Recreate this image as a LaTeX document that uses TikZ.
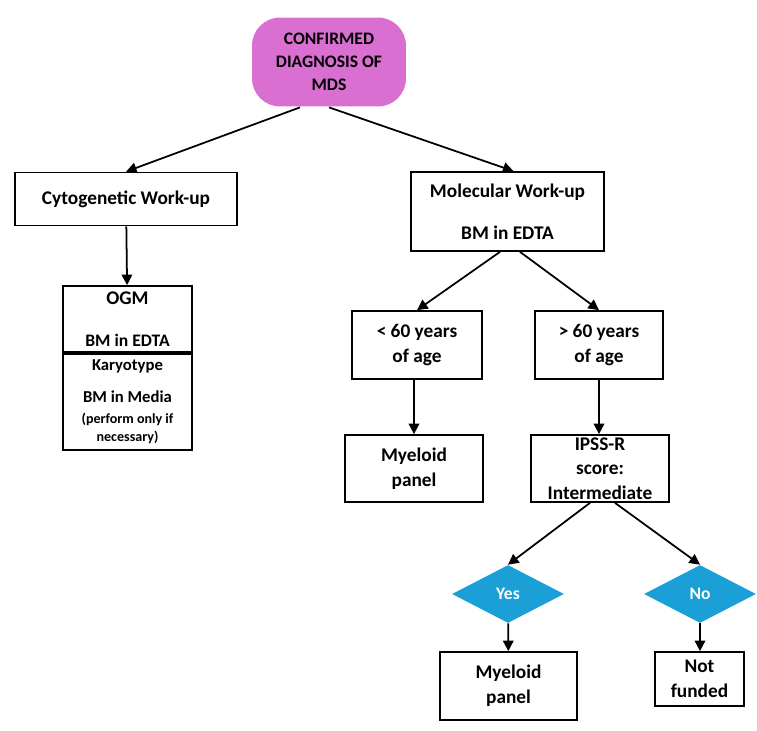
\documentclass[tikz,border=0pt]{standalone}
\usepackage{fontspec}
\setmainfont{Carlito}
\usetikzlibrary{shapes.geometric,arrows.meta}
\definecolor{mdspink}{HTML}{D96FD0}
\definecolor{diablue}{HTML}{1A9FD6}
\tikzset{
  box/.style={draw, line width=1pt, align=center, inner sep=0pt,
    font=\fontsize{11}{14}\selectfont\bfseries},
  dia/.style={diamond, fill=diablue, aspect=1.9, inner sep=0pt,
    minimum width=2.24cm, minimum height=1.16cm, text=white,
    font=\fontsize{10}{12}\selectfont\bfseries},
  arr/.style={-{Triangle[length=6pt,width=6pt]}, line width=1pt}
}
\begin{document}
\begin{tikzpicture}[x=0.02cm,y=-0.02cm]
  \useasboundingbox (0,0) rectangle (757,730);
  % top
  \node[box, draw=none, fill=mdspink, rounded corners=16pt,
    minimum width=3.08cm, minimum height=1.78cm,
    font=\fontsize{10}{13}\selectfont\bfseries] (mds) at (329,62)
    {CONFIRMED\\DIAGNOSIS OF\\MDS};
  % work-up
  \node[box, minimum width=4.44cm, minimum height=1.06cm] (cyto) at (126,199) {Cytogenetic Work-up};
  \node[box, minimum width=3.86cm, minimum height=1.58cm] (mol) at (507.5,211.5)
    {Molecular Work-up\\[10pt]BM in EDTA};
  \node[box, minimum width=2.58cm, minimum height=1.32cm] (ogm) at (127.5,319)
    {OGM\\[10pt]\fontsize{10}{12}\selectfont BM in EDTA};
  \node[box, minimum width=2.58cm, minimum height=1.92cm, anchor=north,
    font=\fontsize{9.5}{12}\selectfont\bfseries] (karyo) at (ogm.south)
    {Karyotype\\[6pt]BM in Media\\{\fontsize{8}{9}\selectfont(perform only if}\\[-2pt]{\fontsize{8}{9}\selectfont necessary)}};
  % age
  \node[box, minimum width=2.6cm, minimum height=1.36cm] (young) at (417,345) {< 60 years\\of age};
  \node[box, minimum width=2.56cm, minimum height=1.36cm] (old) at (599,345) {> 60 years\\of age};
  \node[box, minimum width=2.76cm, minimum height=1.34cm] (panel) at (414,468.5) {Myeloid\\panel};
  \node[box, minimum width=2.76cm, minimum height=1.34cm] (ipss) at (600,468.5) {IPSS-R\\score:\\Intermediate};
  % decision
  \node[dia] (yes) at (508,594) {Yes};
  \node[dia] (no) at (700,594) {No};
  \node[box, minimum width=2.74cm, minimum height=1.36cm] (panel2) at (508.5,686) {Myeloid\\panel};
  \node[box, minimum width=1.78cm, minimum height=1.08cm] (nofund) at (699.5,679) {Not\\funded};
  % arrows
  \draw[arr] ([xshift=-0.58cm]mds.south) -- (cyto.north);
  \draw[arr] (mds.south) -- ([xshift=0.12cm]mol.north);
  \draw[arr] (cyto) -- (ogm);
  \draw[arr] ([xshift=-0.15cm]mol.south) -- (young.north);
  \draw[arr] ([xshift=0.25cm]mol.south) -- (old.north);
  \draw[arr] (young.south -| panel) -- (panel);
  \draw[arr] (old) -- (old |- ipss.north);
  \draw[arr] ([xshift=-0.2cm]ipss.south) -- (yes.north);
  \draw[arr] ([xshift=0.3cm]ipss.south) -- (no.north);
  \draw[arr] (yes) -- (panel2);
  \draw[arr] (no) -- (no |- nofund.north);
\end{tikzpicture}
\end{document}
